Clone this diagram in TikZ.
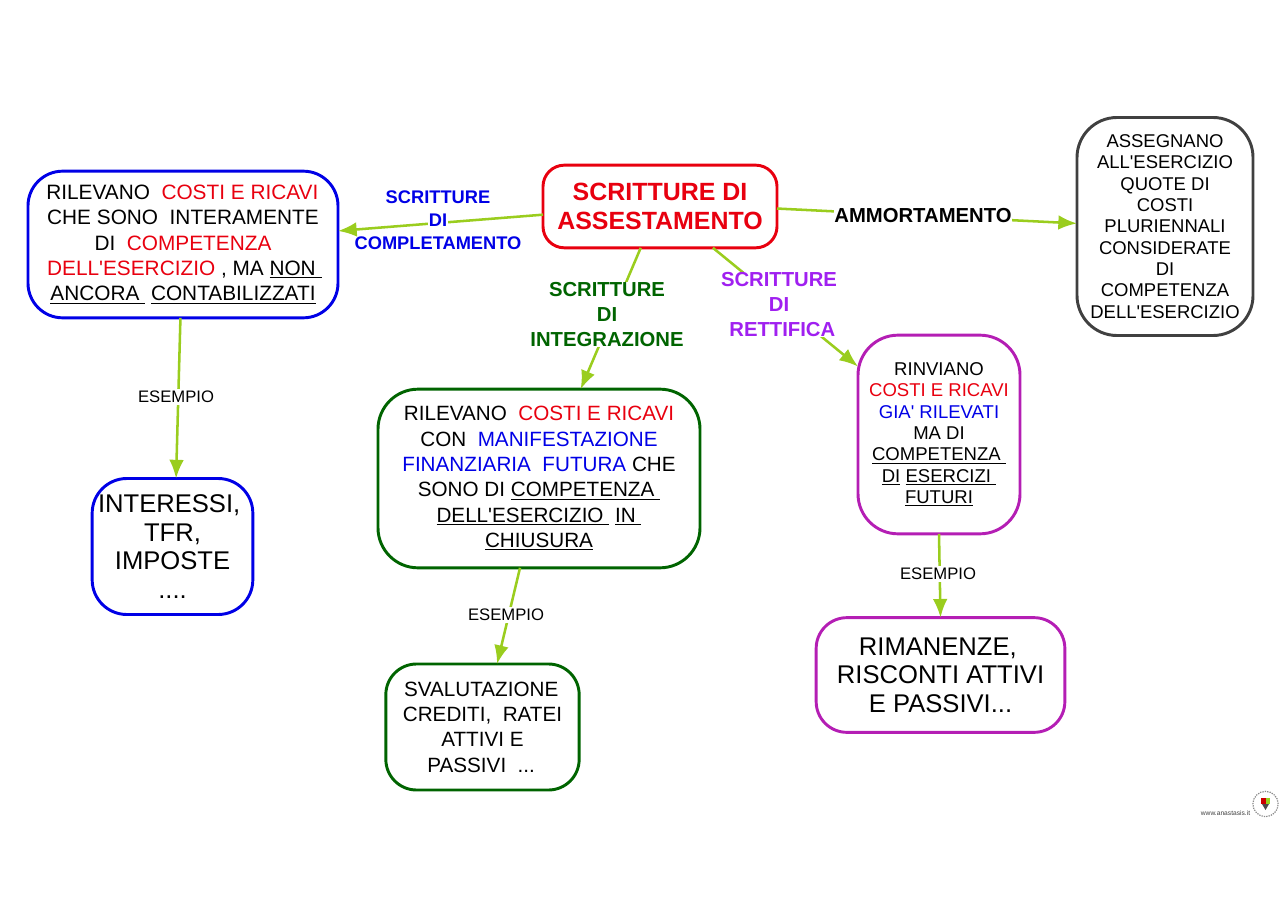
\documentclass[tikz,border=0pt]{standalone}
\usepackage{fontspec}
\setmainfont{Liberation Sans}[Ligatures=TeXOff]
\usetikzlibrary{arrows.meta}
\definecolor{cred}{HTML}{E8000F}
\definecolor{cblue}{HTML}{0000E6}
\definecolor{cgreen}{HTML}{006400}
\definecolor{cpurp}{HTML}{B41EB4}
\definecolor{cdark}{HTML}{404040}
\definecolor{clab}{HTML}{A020F0}
\definecolor{carrow}{HTML}{9ACD1E}
\newcommand{\rd}[1]{\textcolor{cred}{#1}}
\newcommand{\bl}[1]{\textcolor{cblue}{#1}}
\newcommand{\ul}[1]{\underline{#1}}
\newcommand{\wb}[1]{{\setlength{\fboxsep}{0.6pt}\colorbox{white}{#1}}}
\tikzset{
 box/.style={draw,line width=2.2pt,inner sep=0pt,outer sep=0pt,align=center,text=black},
 conn/.style={draw=carrow,line width=1.9pt,-{Latex[length=14pt,width=11pt]}},
 lab/.style={font=\bfseries\fontsize{15.2}{19}\selectfont,align=center,inner sep=0pt},
 ex/.style={font=\fontsize{12.5}{14}\selectfont,fill=white,inner sep=1.5pt,text=black},
}
\begin{document}
\begin{tikzpicture}[x=0.75pt,y=-0.75pt]
\useasboundingbox (0,0) rectangle (1280,905);
\node[box,draw=cred,rounded corners=16pt,minimum width=175.5pt,minimum height=62pt,font=\bfseries\fontsize{18.7}{22}\selectfont,text=cred] (main) at (660,206.5) {SCRITTURE DI\\ASSESTAMENTO};
\node[box,draw=cblue,rounded corners=26pt,minimum width=232.5pt,minimum height=110pt,font=\fontsize{15.6}{19}\selectfont] (blue) at (183,244.5) {RILEVANO \ \rd{COSTI E RICAVI}\hspace*{1pt}\\CHE SONO \ INTERAMENTE\hspace*{1pt}\\DI \ \rd{COMPETENZA}\hspace*{27pt}\\\hspace*{2pt}\rd{DELL'ESERCIZIO} , MA \ul{NON\ }\\\ul{ANCORA\ } \ul{CONTABILIZZATI}};
\node[box,draw=cdark,rounded corners=30pt,minimum width=132pt,minimum height=163.5pt,font=\fontsize{13.85}{16}\selectfont] (dark) at (1165,226.5) {ASSEGNANO\\ALL'ESERCIZIO\\QUOTE DI\\COSTI\\PLURIENNALI\\CONSIDERATE\\DI\\COMPETENZA\hspace*{3pt}\\DELL'ESERCIZIO};
\node[box,draw=cblue,rounded corners=26pt,minimum width=120.5pt,minimum height=102pt,font=\fontsize{19.2}{21.5}\selectfont] (bluesm) at (172.5,546.5) {INTERESSI,\hspace*{5pt}\\TFR,\hspace*{5pt}\\IMPOSTE\hspace*{5pt}\\....};
\node[box,draw=cgreen,rounded corners=30pt,minimum width=241.5pt,minimum height=134pt,font=\fontsize{15.5}{19}\selectfont] (green) at (539,478.5) {RILEVANO \ \rd{COSTI E RICAVI}\\CON \ \bl{MANIFESTAZIONE}\\\bl{FINANZIARIA \ FUTURA} CHE\\SONO DI \ul{COMPETENZA\ }\\\ul{DELL'ESERCIZIO\ } \ul{IN\ }\\\ul{CHIUSURA}};
\node[box,draw=cgreen,rounded corners=23pt,minimum width=145pt,minimum height=94.5pt,font=\fontsize{15.5}{19}\selectfont] (greensm) at (482.5,727) {SVALUTAZIONE\hspace*{2pt}\\CREDITI, \ RATEI\\ATTIVI E\hspace*{2pt}\\PASSIVI \ ...\hspace*{2pt}};
\node[box,draw=cpurp,rounded corners=30pt,minimum width=121.5pt,minimum height=149pt,font=\fontsize{13.9}{16}\selectfont] (purp) at (939,434.5) {RINVIANO\\\rd{COSTI E RICAVI}\\\bl{GIA' RILEVATI}\\MA DI\\\ul{COMPETENZA\ }\\\ul{DI}\ \ul{ESERCIZI\ }\\\ul{FUTURI}};
\node[box,draw=cpurp,rounded corners=23pt,minimum width=186.5pt,minimum height=86pt,font=\fontsize{19.2}{21.5}\selectfont] (purpsm) at (940.5,675) {RIMANENZE,\hspace*{4pt}\\RISCONTI ATTIVI\hspace*{4pt}\\E PASSIVI...};

\path[conn] (main.184) -- (blue.5.7);
\path[conn] (main.-115.7) -- (green.65.4);
\path[conn] (main.-38.6) -- (purp.140.6);
\path[conn] (main.-1.7) -- (dark.178.7);
\path[conn] (blue.-92.3) -- (bluesm.87.9);
\path[conn] (green.-102.6) -- (greensm.77);
\path[conn] (purp.-90) -- (purpsm.90);

\node[lab,text=cblue,font=\bfseries\fontsize{13.7}{17.25}\selectfont] (lb1) at (438,220.5) {SCRITTURE\\\wb{DI}\\COMPLETAMENTO};
\node[lab,text=cgreen,fill=white] (lb2) at (607,314.5) {SCRITTURE\\DI\\INTEGRAZIONE};
\node[lab,text=clab,fill=white] (lb3) at (779,304.5) {SCRITTURE\\DI\\\hspace*{5pt}RETTIFICA};
\node[lab,text=black,fill=white,inner sep=0.5pt] (lb4) at (923,215.5) {AMMORTAMENTO};
\node[ex] (e1) at (176,397) {ESEMPIO};
\node[ex] (e2) at (506,615) {ESEMPIO};
\node[ex] (e3) at (938,574) {ESEMPIO};

\node[font=\fontsize{5}{6}\selectfont,text=black!75,inner sep=0pt] (site) at (1225.5,813.5) {www.anastasis.it};
\node[draw=black!45,line width=0.9pt,dash pattern=on 1pt off 0.8pt,minimum size=19pt,circle,inner sep=0pt] (logo) at (1265.5,804) {};
\fill[red!80!black] (1261,798) rectangle (1265.5,804);
\fill[yellow!60!green] (1265.5,798) rectangle (1270,804);
\fill[black!70] (1262,804) -- (1269,804) -- (1265.5,810) -- cycle;
\end{tikzpicture}
\end{document}
